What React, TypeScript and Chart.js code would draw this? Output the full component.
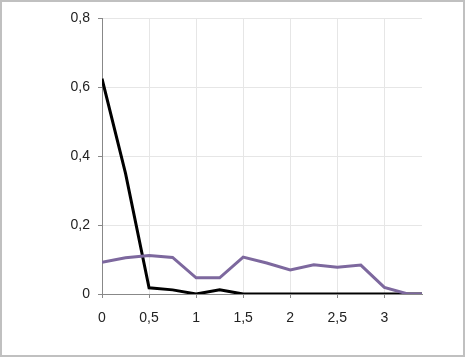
import React, { useEffect, useRef } from "react";
import { Chart, registerables } from "chart.js";

Chart.register(...registerables);

const xValues = [0, 0.25, 0.5, 0.75, 1, 1.25, 1.5, 1.75, 2, 2.25, 2.5, 2.75, 3, 3.25, 3.5];
const blackSeries = [0.625, 0.35, 0.018, 0.012, 0, 0.012, 0, 0, 0, 0, 0, 0, 0, 0, 0];
const purpleSeries = [0.092, 0.105, 0.112, 0.106, 0.047, 0.047, 0.107, 0.09, 0.07, 0.085, 0.078, 0.084, 0.019, 0, 0];
const xTickStep = 0.5;
const yTickStep = 0.2;
const xMax = 3.4;
const yMax = 0.8;

const fmt = (v: number) => Number(v.toFixed(2)).toString().replace(".", ",");

export default function App() {
  const ref = useRef<HTMLCanvasElement | null>(null);
  useEffect(() => {
    if (!ref.current) return;
    const font = { family: "'Liberation Sans', Arial, sans-serif", size: 14 };
    const chart = new Chart(ref.current, {
      type: "line",
      data: {
        datasets: [
          {
            label: "A",
            data: xValues.map((x, i) => ({ x, y: purpleSeries[i] })),
            borderColor: "#7d689e",
            borderWidth: 3,
            pointRadius: 0,
            tension: 0,
            clip: 0,
          },
          {
            label: "B",
            data: xValues.map((x, i) => ({ x, y: blackSeries[i] })),
            borderColor: "#000000",
            borderWidth: 3,
            pointRadius: 0,
            tension: 0,
            clip: 0,
          },
        ],
      },
      options: {
        animation: false,
        responsive: false,
        maintainAspectRatio: false,
        layout: { padding: { left: 0, right: 41, top: 12, bottom: 0 } },
        plugins: { legend: { display: false }, tooltip: { enabled: false } },
        scales: {
          x: {
            type: "linear",
            min: 0,
            max: xMax,
            ticks: {
              stepSize: xTickStep,
              includeBounds: false,
              color: "#222",
              font,
              padding: 12,
              maxRotation: 0,
              callback: (v: any) => fmt(Number(v)),
            },
            grid: { color: "#e6e6e6", tickColor: "#888", tickLength: 4, lineWidth: 1 },
            border: { color: "#888", width: 1 },
            afterFit: (s: any) => {
              s.height = 61;
            },
          },
          y: {
            type: "linear",
            min: 0,
            max: yMax,
            ticks: {
              stepSize: yTickStep,
              color: "#222",
              font,
              padding: 8,
              callback: (v: any) => fmt(Number(v)),
            },
            grid: { color: "#e6e6e6", tickColor: "#888", tickLength: 4, lineWidth: 1 },
            border: { color: "#888", width: 1 },
            afterFit: (s: any) => {
              s.width = 100;
            },
          },
        },
      },
    });
    return () => chart.destroy();
  }, []);
  return (
    <div
      style={{
        position: "fixed",
        left: 0,
        top: 0,
        width: 465,
        height: 357,
        boxSizing: "border-box",
        border: "2px solid #c0c0c0",
        background: "#fff",
      }}
    >
      <canvas ref={ref} width={461} height={353} style={{ display: "block" }} />
    </div>
  );
}
